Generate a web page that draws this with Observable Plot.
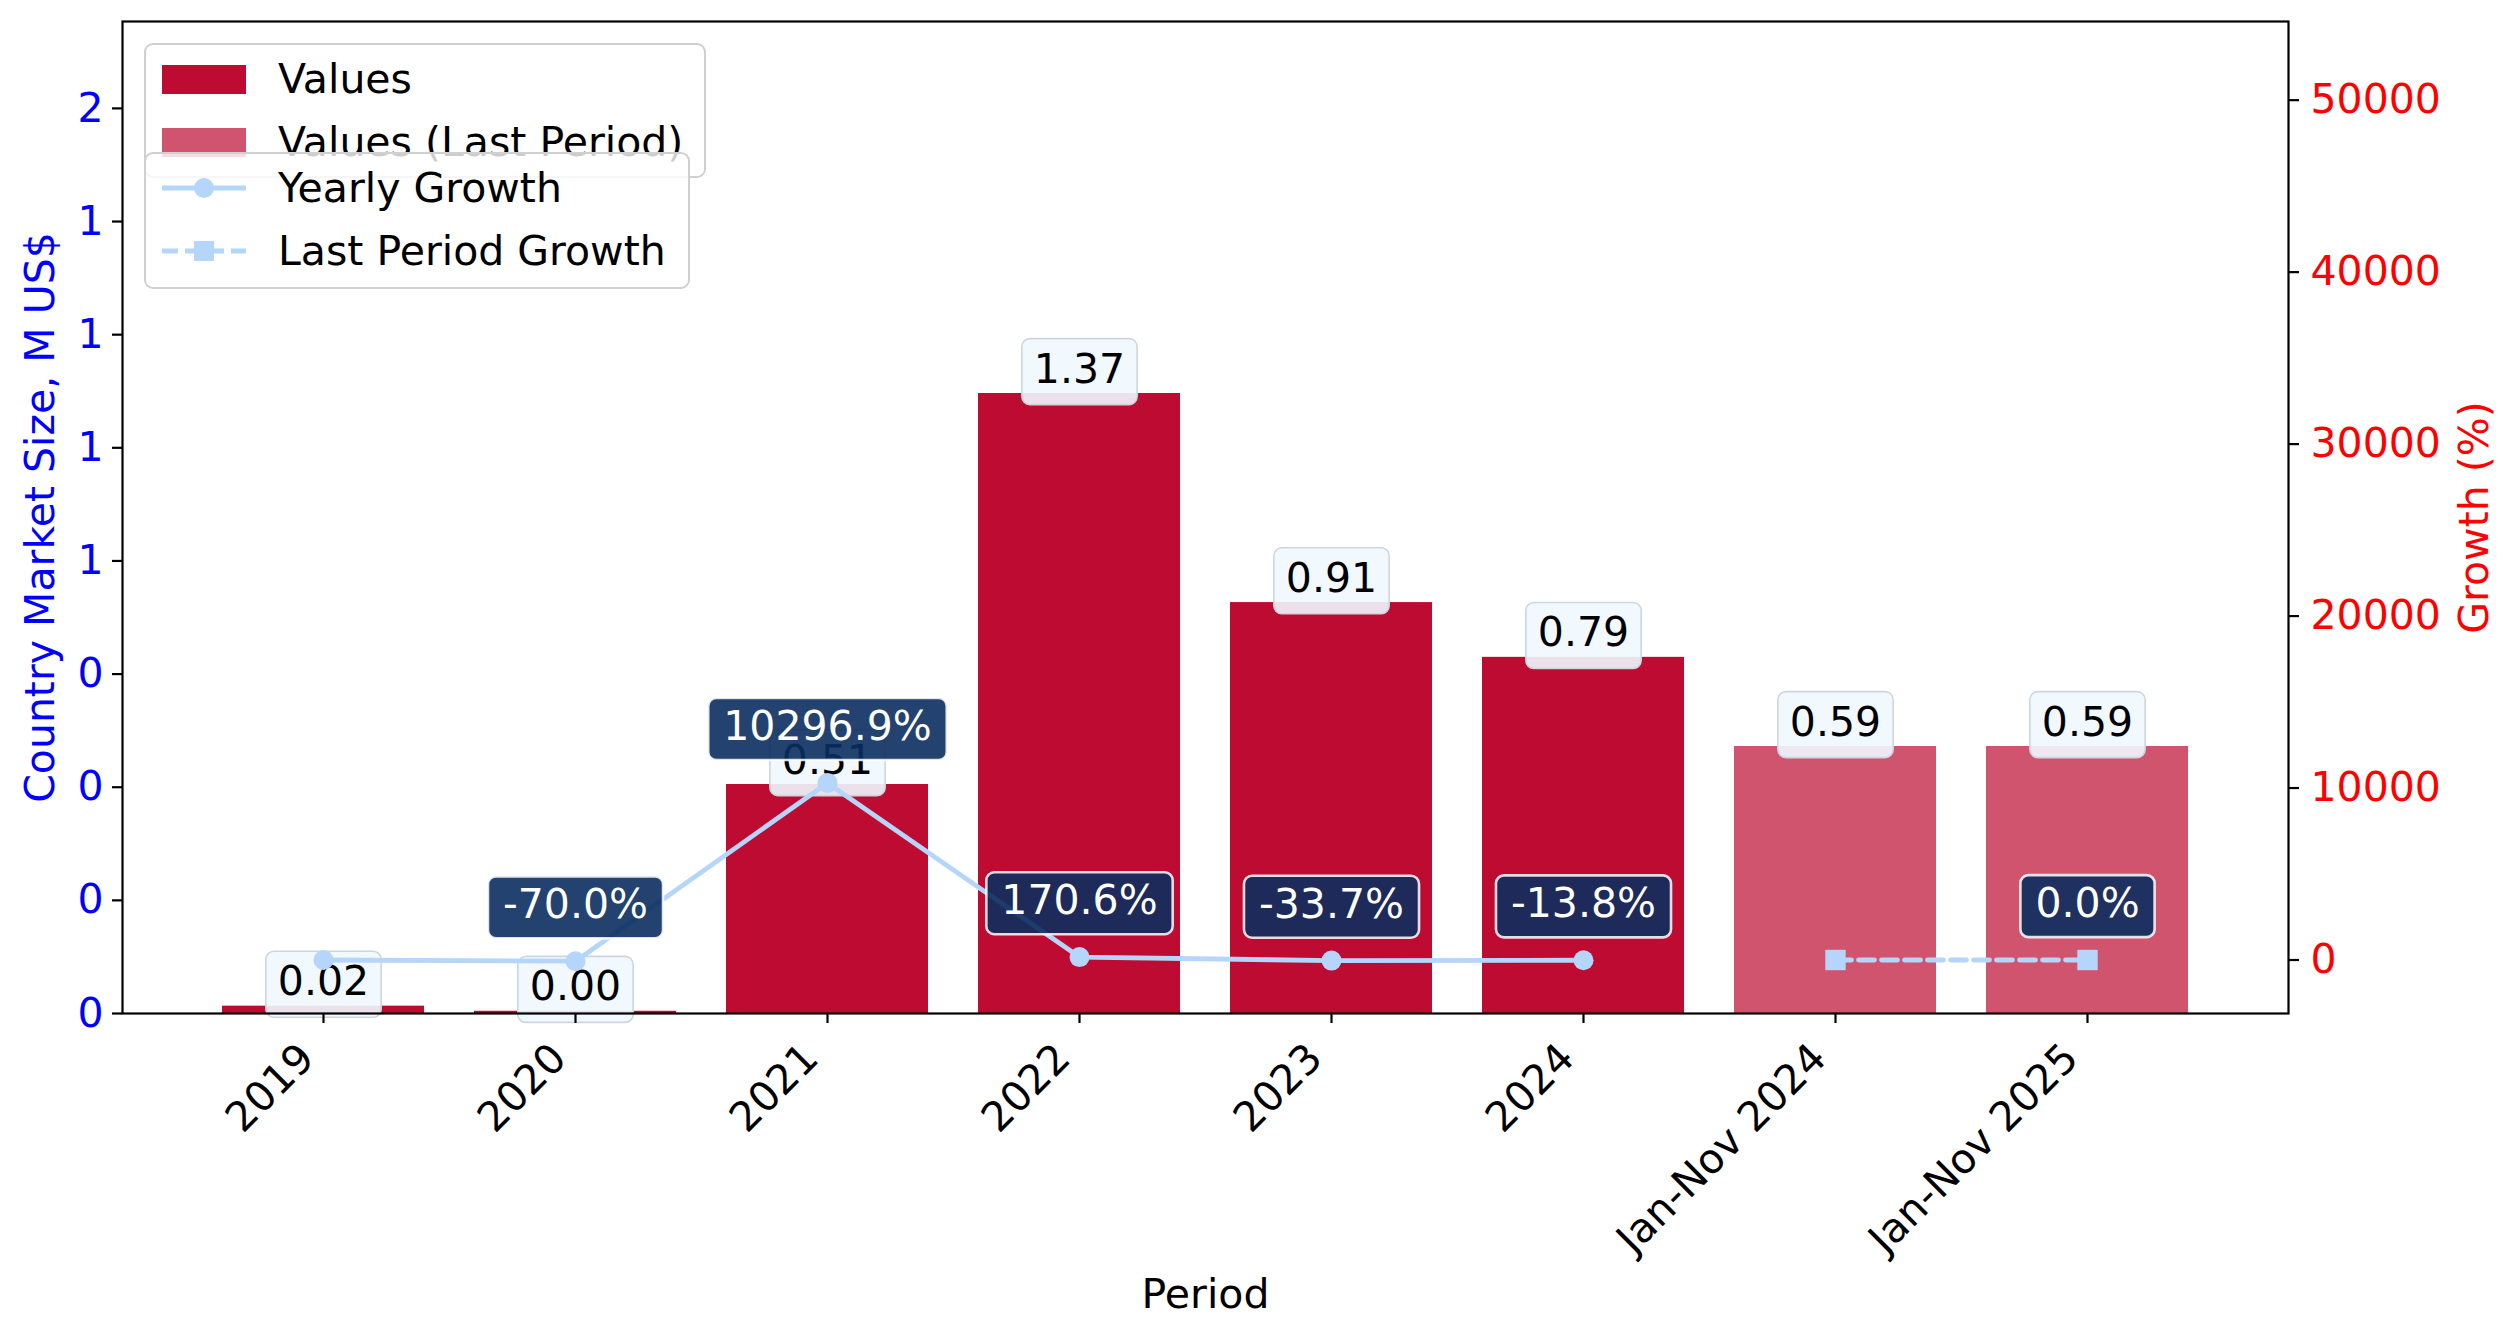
<!DOCTYPE html>
<html><head><meta charset="utf-8">
<script src="https://cdn.jsdelivr.net/npm/d3@7"></script>
<script src="https://cdn.jsdelivr.net/npm/@observablehq/plot@0.6"></script>
<style>
body{margin:0;background:#fff;font-family:"DejaVu Sans",sans-serif;}
#wrap{position:relative;width:2517px;height:1338px;overflow:hidden;}
.legend{position:absolute;background:rgba(255,255,255,0.8);border:2px solid #d0d0d0;border-radius:9px;box-sizing:border-box;font-size:41px;color:#000;}
.row{position:absolute;left:0;right:0;height:50px;}
.row svg{position:absolute;left:14px;top:0;}
.row span{position:absolute;left:132px;top:0;line-height:50px;white-space:nowrap;}
</style></head><body><div id="wrap"></div>
<script>
// ---- data ----
const periods = ["2019","2020","2021","2022","2023","2024","Jan-Nov 2024","Jan-Nov 2025"];
const values = [0.0162, 0.0049, 0.506, 1.37, 0.908, 0.787, 0.59, 0.59];
const isLastPeriod = [false,false,false,false,false,false,true,true];
const yearlyGrowth = [0, -70.0, 10296.9, 170.6, -33.7, -13.8, null, null];
const lastPeriodGrowth = [null,null,null,null,null,null,0, 0.0];
const leftTicks = [0,0.25,0.5,0.75,1,1.25,1.5,1.75,2];
const rightTicks = [0,10000,20000,30000,40000,50000];
const legendBars = ["Values","Values (Last Period)"];
const legendLines = ["Yearly Growth","Last Period Growth"];

// ---- layout / style ----
const W = 2517, H = 1338;
const vMax = 2.192, gMin = -3110, gMax = 54574;
const g2v = g => (g - gMin) / (gMax - gMin) * vMax;
const v2g = v => v / vMax * (gMax - gMin) + gMin;
const barColor = "#be0b31", lineColor = "#b5d5fb";
const FS = 41;

const bars = periods.map((p,i)=>({period:p, value:values[i], last:isLastPeriod[i]}));
const yearly = periods.map((p,i)=>({period:p, g:yearlyGrowth[i]})).filter(d=>d.g!=null);
const lastG = periods.map((p,i)=>({period:p, g:lastPeriodGrowth[i]})).filter(d=>d.g!=null);
const growthLabels = [...yearly.slice(1), ...lastG.slice(1)];
const valueText = d => d.value.toFixed(2);
const growthText = d => d.g.toFixed(1) + "%";

const svg = Plot.plot({
  width: W, height: H,
  marginLeft: 122, marginRight: 229, marginTop: 21, marginBottom: 325,
  style: {fontFamily: "DejaVu Sans", fontSize: FS + "px", background: "white", color: "black", overflow: "visible"},
  x: {type: "band", domain: periods, paddingInner: 0.2, paddingOuter: 0.387},
  y: {domain: [0, vMax]},
  marks: [
    Plot.barY(bars.filter(d=>!d.last), {x: "period", y: "value", fill: barColor}),
    Plot.barY(bars.filter(d=>d.last), {x: "period", y: "value", fill: barColor, fillOpacity: 0.7}),
    Plot.text(bars, {x: "period", y: "value", text: valueText, dy: -24, lineAnchor: "middle",
      fill: "black", fontSize: FS}),
    Plot.line(yearly, {x: "period", y: d => g2v(d.g), stroke: lineColor, strokeWidth: 4.8}),
    Plot.dot(yearly, {x: "period", y: d => g2v(d.g), r: 10, fill: lineColor, stroke: null}),
    Plot.line(lastG, {x: "period", y: d => g2v(d.g), stroke: lineColor, strokeWidth: 4.8, strokeDasharray: "16,7"}),
    Plot.dot(lastG, {x: "period", y: d => g2v(d.g), r: 11.5, symbol: "square", fill: lineColor, stroke: null}),
    Plot.text(growthLabels, {x: "period", y: d => g2v(d.g), text: growthText, dy: -56, lineAnchor: "middle",
      fill: "white", fontSize: FS}),
    Plot.frame({stroke: "black", strokeWidth: 2.2}),
    Plot.axisX({tickSize: 10, stroke: "black", strokeWidth: 2.2, tickFormat: () => "", label: null}),
    Plot.text(periods, {x: d => d, frameAnchor: "bottom", rotate: -45, textAnchor: "end", lineAnchor: "bottom",
      dx: -7, dy: 47, fontSize: FS, fill: "black"}),
    Plot.axisY(leftTicks, {anchor: "left", tickSize: 10, tickPadding: 9, stroke: "black", strokeWidth: 2.2,
      fill: "blue", fontSize: FS, tickFormat: d => String(Math.trunc(d)), label: null}),
    Plot.axisY(rightTicks.map(g2v), {anchor: "right", tickSize: 10, tickPadding: 12, stroke: "black", strokeWidth: 2.2,
      fill: "red", fontSize: FS, tickFormat: v => String(Math.round(v2g(v))), label: null}),
    Plot.text(["Country Market Size, M US$"], {frameAnchor: "left", rotate: -90, dx: -82, lineAnchor: "middle",
      textAnchor: "middle", fill: "blue", fontSize: FS}),
    Plot.text(["Growth (%)"], {frameAnchor: "right", rotate: -90, dx: 186, lineAnchor: "middle",
      textAnchor: "middle", fill: "red", fontSize: FS}),
    Plot.text(["Period"], {frameAnchor: "bottom", dy: 281, lineAnchor: "middle", fill: "black", fontSize: FS})
  ]
});

const wrap = document.getElementById("wrap");
wrap.appendChild(svg);

// find the text group whose labels match a given set of strings
function findTextGroup(strings) {
  const want = strings.join("|");
  return Array.from(svg.querySelectorAll("g")).find(g => {
    const ts = Array.from(g.children).filter(c => c.tagName.toLowerCase() === "text");
    return ts.length === strings.length && ts.map(t => t.textContent).join("|") === want;
  });
}

function boxify(g, o) {
  if (!g) return;
  Array.from(g.querySelectorAll("text")).forEach(t => {
    const b = t.getBBox();
    const r = document.createElementNS("http://www.w3.org/2000/svg", "rect");
    const h = FS + 2 * o.padY;
    const cy = b.y + b.height / 2 + 3;
    r.setAttribute("x", b.x - o.padX);
    r.setAttribute("y", cy - h / 2);
    r.setAttribute("width", b.width + 2 * o.padX);
    r.setAttribute("height", h);
    r.setAttribute("rx", 8);
    r.setAttribute("fill", o.fill);
    r.setAttribute("fill-opacity", o.fillOpacity);
    r.setAttribute("stroke", o.stroke);
    r.setAttribute("stroke-opacity", o.strokeOpacity);
    r.setAttribute("stroke-width", o.strokeWidth);
    const tr = t.getAttribute("transform");
    if (tr) r.setAttribute("transform", tr);
    g.insertBefore(r, t);
  });
}
boxify(findTextGroup(bars.map(valueText)), {padX: 12, padY: 12.5, fill: "#f0f8ff", fillOpacity: 0.9, stroke: "#cdd6e0", strokeOpacity: 1, strokeWidth: 1.6});
boxify(findTextGroup(growthLabels.map(growthText)), {padX: 15, padY: 10.5, fill: "rgb(11,45,95)", fillOpacity: 0.9, stroke: "white", strokeOpacity: 0.85, strokeWidth: 2.6});

// ---- legends (HTML overlays inside the axes area) ----
function legendBox(left, top, width, height, items) {
  const d = document.createElement("div");
  d.className = "legend";
  Object.assign(d.style, {left: left + "px", top: top + "px", width: width + "px", height: height + "px"});
  items.forEach((it, i) => {
    const row = document.createElement("div");
    row.className = "row";
    row.style.top = (9 + i * 63) + "px";
    row.innerHTML = `<svg width="88" height="50">${it.handle}</svg><span>${it.label}</span>`;
    d.appendChild(row);
  });
  wrap.appendChild(d);
}
legendBox(144, 43, 562, 135, [
  {label: legendBars[0], handle: `<rect x="2" y="11" width="84" height="29" fill="${barColor}"/>`},
  {label: legendBars[1], handle: `<rect x="2" y="11" width="84" height="29" fill="${barColor}" fill-opacity="0.7"/>`}
]);
legendBox(144, 152, 546, 137, [
  {label: legendLines[0], handle: `<line x1="2" x2="86" y1="25" y2="25" stroke="${lineColor}" stroke-width="4.8"/><circle cx="44" cy="25" r="10" fill="${lineColor}"/>`},
  {label: legendLines[1], handle: `<line x1="2" x2="86" y1="25" y2="25" stroke="${lineColor}" stroke-width="4.8" stroke-dasharray="16,7"/><rect x="34" y="15" width="20" height="20" fill="${lineColor}"/>`}
]);
</script></body></html>
